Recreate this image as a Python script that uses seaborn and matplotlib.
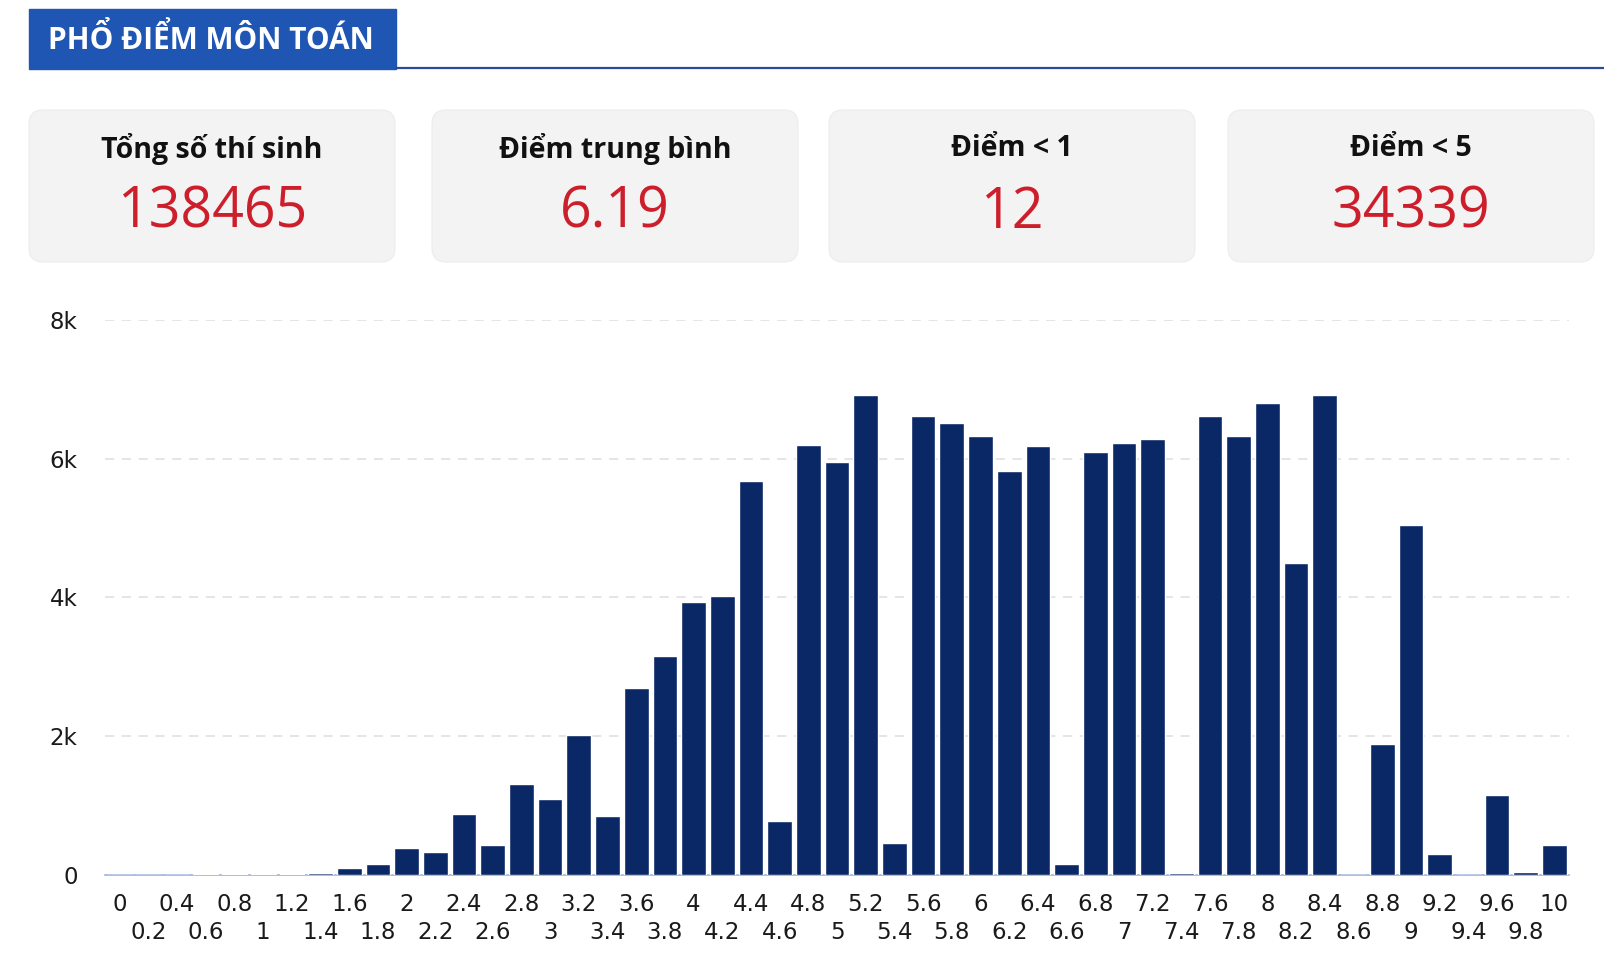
import matplotlib
matplotlib.use("Agg")
import matplotlib.pyplot as plt
from matplotlib.patches import FancyBboxPatch, Rectangle
import seaborn as sns
import pandas as pd

# score bins 0, 0.2, ..., 10
scores = ["0", "0.2", "0.4", "0.6", "0.8", "1", "1.2", "1.4", "1.6", "1.8",
          "2", "2.2", "2.4", "2.6", "2.8", "3", "3.2", "3.4", "3.6", "3.8",
          "4", "4.2", "4.4", "4.6", "4.8", "5", "5.2", "5.4", "5.6", "5.8",
          "6", "6.2", "6.4", "6.6", "6.8", "7", "7.2", "7.4", "7.6", "7.8",
          "8", "8.2", "8.4", "8.6", "8.8", "9", "9.2", "9.4", "9.6", "9.8", "10"]
counts = [0, 1, 2, 3, 6, 8, 12, 20, 100, 150,
          380, 325, 870, 430, 1310, 1090, 2020, 840, 2690, 3160,
          3930, 4015, 5680, 780, 6200, 5950, 6920, 460, 6610, 6510,
          6320, 5815, 6185, 150, 6100, 6230, 6290, 30, 6610, 6320,
          6800, 4500, 6920, 0, 1890, 5050, 295, 0, 1150, 40, 430]

title = "PHỔ ĐIỂM MÔN TOÁN"
card_labels = ["Tổng số thí sinh", "Điểm trung bình", "Điểm < 1", "Điểm < 5"]
card_values = ["138465", "6.19", "12", "34339"]

yticks = [0, 2000, 4000, 6000, 8000]
ytick_labels = ["0", "2k", "4k", "6k", "8k"]

sns.set_style("white")
plt.rcParams["font.family"] = ["DejaVu Sans"]

df = pd.DataFrame({"score": scores, "count": counts})

fig = plt.figure(figsize=(16.04, 9.8), dpi=100)
fig.patch.set_facecolor("white")

# background layer in pixel coords for header and cards
bg = fig.add_axes([0, 0, 1, 1], zorder=0)
bg.set_xlim(0, 1604)
bg.set_ylim(980, 0)
bg.axis("off")

bg.add_patch(Rectangle((29, 9), 367, 60, color="#1f56b3"))
bg.plot([396, 1604], [68.5, 68.5], color="#2a4a9c", lw=1.6)
bg.text(48, 40, title, color="white", fontsize=21.5, fontweight="bold",
        family=["Open Sans", "DejaVu Sans"], va="center", ha="left")

card_x = [29, 432, 829, 1228]
card_w = 366
for cx, lab, val in zip(card_x, card_labels, card_values):
    bg.add_patch(FancyBboxPatch((cx + 14, 110 + 14), card_w - 28, 152 - 28,
                                boxstyle="round,pad=14", fc="#f3f3f3", ec="#ececec", lw=0.8))
    mid = cx + card_w / 2
    bg.text(mid, 149, lab, fontsize=20.5, fontweight="bold", color="#111111",
            family=["Open Sans", "DejaVu Sans"], ha="center", va="center")
    bg.text(mid, 213, val, fontsize=40, color="#cc1f2b",
            family=["Open Sans", "DejaVu Sans"], ha="center", va="center")

# histogram
ax = fig.add_axes([0.0657, 0.1075, 0.9123, 0.566], zorder=1)
ax.set_facecolor("none")
sns.barplot(data=df, x="score", y="count", color="#0b2866", width=0.86,
            saturation=1, ax=ax, zorder=3)
ax.set_xlim(-0.5, 50.5)
ax.set_ylim(0, 8000)
ax.set_yticks(yticks, ytick_labels)
ax.grid(axis="y", color="#dedede", linestyle=(0, (6, 5)), lw=1.1, zorder=0)
ax.grid(axis="x", visible=False)

for side in ["top", "right", "left"]:
    ax.spines[side].set_visible(False)
ax.spines["bottom"].set_color("#9fb3df")
ax.spines["bottom"].set_linewidth(1.2)

even = list(range(0, 51, 2))
odd = list(range(1, 51, 2))
ax.set_xticks(even, [scores[i] for i in even])
ax.set_xticks(odd, [scores[i] for i in odd], minor=True)
ax.tick_params(axis="x", which="major", length=0, pad=13.5, labelsize=16.5, labelcolor="#1a1a1a")
ax.tick_params(axis="x", which="minor", length=0, pad=33.5, labelsize=16.5, labelcolor="#1a1a1a")
ax.tick_params(axis="y", length=0, pad=20, labelsize=16.5, labelcolor="#1a1a1a")
ax.set_xlabel("")
ax.set_ylabel("")

fig.savefig("out.png", dpi=100, facecolor="white")
